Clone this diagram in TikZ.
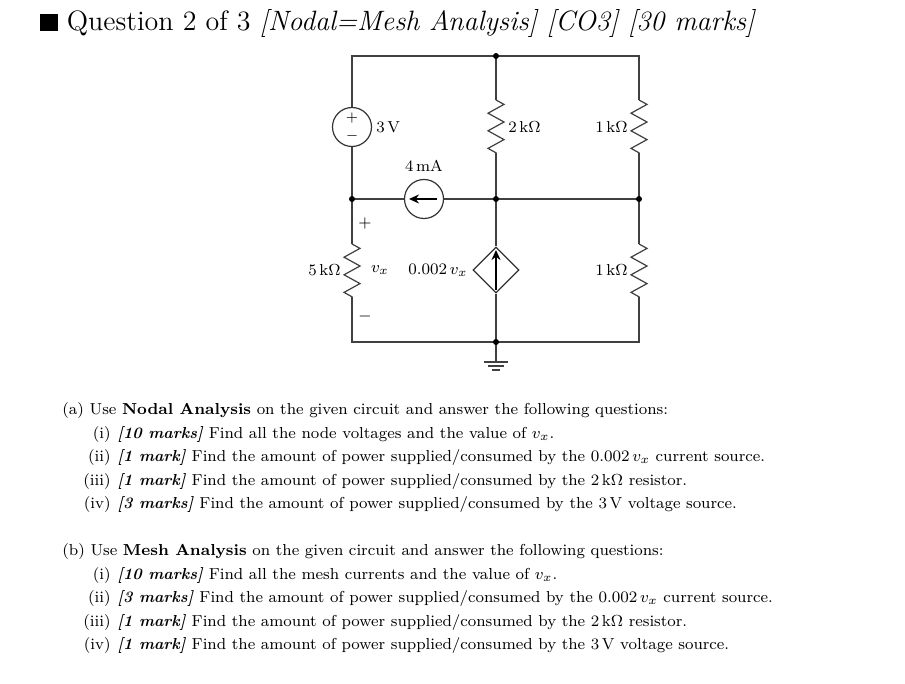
\documentclass[tikz,border=0pt]{standalone}
\usetikzlibrary{shapes.geometric,decorations.pathmorphing,arrows.meta}
\begin{document}
\begin{tikzpicture}[x=0.5pt,y=-0.5pt,font=\fontsize{7.95}{10}\selectfont,
  wire/.style={draw=black!75,line width=0.6pt},
  res/.style={wire,decorate,decoration={zigzag,segment length=8.8pt,amplitude=4pt}},
  dot/.style={circle,fill=black,inner sep=0pt,minimum size=3pt},
  src/.style={circle,draw=black!80,line width=0.6pt,minimum size=19.5pt,inner sep=0pt},
  lab/.style={inner sep=1pt},
  txt/.style={anchor=base west,inner sep=0pt},
  num/.style={anchor=base east,inner sep=0pt}]
\useasboundingbox (0,0) rectangle (905,684);
% junctions
\coordinate (TL) at (352,56); \coordinate (TM) at (496,56); \coordinate (TR) at (639,56);
\coordinate (ML) at (352,199); \coordinate (MM) at (496,199); \coordinate (MR) at (639,199);
\coordinate (BL) at (352,342); \coordinate (BM) at (496,342); \coordinate (BR) at (639,342);
\coordinate (G) at (496,362);
% resistor ends
\coordinate (r2a) at (496,100); \coordinate (r2b) at (496,153);
\coordinate (r1a) at (639,100); \coordinate (r1b) at (639,153);
\coordinate (r5a) at (352,244); \coordinate (r5b) at (352,297);
\coordinate (r3a) at (639,244); \coordinate (r3b) at (639,297);
% sources
\node[src] (vs) at (352,127) {};
\node[src] (cs) at (424,199) {};
\node[diamond,draw=black!80,line width=0.6pt,minimum size=23pt,inner sep=0pt] (dep) at (496,270) {};
% wires
\draw[wire] (vs.north) -- (TL) -- (TR) -- (r1a);
\draw[wire] (vs.south) -- (ML) -- (cs.west);
\draw[wire] (cs.east) -- (MR);
\draw[wire] (TM) -- (r2a); \draw[wire] (r2b) -- (dep.north);
\draw[wire] (r1b) -- (MR) -- (r3a);
\draw[wire] (r3b) -- (BR) -- (BL) -- (r5b);
\draw[wire] (ML) -- (r5a);
\draw[wire] (dep.south) -- (BM) -- (G);
\draw[res] (r2a) -- (r2b);
\draw[res] (r1a) -- (r1b);
\draw[res] (r5a) -- (r5b);
\draw[res] (r3a) -- (r3b);
% ground
\coordinate (g1a) at (484,362); \coordinate (g1b) at (508,362);
\coordinate (g2a) at (488,366); \coordinate (g2b) at (504,366);
\coordinate (g3a) at (492,370); \coordinate (g3b) at (500,370);
\draw[wire] (g1a) -- (g1b); \draw[wire] (g2a) -- (g2b); \draw[wire] (g3a) -- (g3b);
% dots
\foreach \p in {TM,ML,MM,MR,BM} \node[dot] at (\p) {};
% source internals
\node[inner sep=0pt,font=\scriptsize] (vp) at (352,118) {$+$};
\node[inner sep=0pt,font=\scriptsize] (vm) at (352,136) {$-$};
\coordinate (ca) at (437,199); \coordinate (cb) at (409,199);
\draw[-{Stealth[length=5pt,width=4.5pt]},line width=1.1pt] (ca) -- (cb);
\coordinate (da) at (496,290); \coordinate (db) at (496,250);
\draw[-{Stealth[length=5pt,width=4.5pt]},line width=1.1pt] (da) -- (db);
% labels
\node[lab,anchor=west] (l3v) at (374,127) {3\,V};
\node[lab] (l4ma) at (424,166) {4\,mA};
\node[lab,anchor=west] (l2k) at (506,127) {2\,k$\Omega$};
\node[lab,anchor=east] (l1k) at (630,127) {1\,k$\Omega$};
\node[lab,anchor=east] (l5k) at (343,270) {5\,k$\Omega$};
\node[lab,anchor=east] (l1kb) at (630,270) {1\,k$\Omega$};
\node[lab] (lp) at (365,224) {$+$};
\node[lab] (lvx) at (380,270) {$v_x$};
\node[lab] (lm) at (365,317) {$-$};
\node[lab,anchor=east] (ldep) at (470,270) {$0.002\,v_x$};
% title
\node[txt,font=\fontsize{14}{17}\selectfont] (title) at (40,31) {\rule{0.62em}{0.62em}\ Question 2 of 3 \textit{[Nodal=Mesh Analysis] [CO3] [30 marks]}};
% part a
\node[txt] (a) at (62,414) {(a)\ Use \textbf{Nodal Analysis} on the given circuit and answer the following questions:};
\node[num] (a1n) at (111,438) {(i)};
\node[txt] (a1) at (117,438) {\textbf{\textit{[10 marks]}} Find all the node voltages and the value of $v_x$.};
\node[num] (a2n) at (111,461) {(ii)};
\node[txt] (a2) at (117,461) {\textbf{\textit{[1 mark]}} Find the amount of power supplied/consumed by the $0.002\,v_x$ current source.};
\node[num] (a3n) at (111,485) {(iii)};
\node[txt] (a3) at (117,485) {\textbf{\textit{[1 mark]}} Find the amount of power supplied/consumed by the 2\,k$\Omega$ resistor.};
\node[num] (a4n) at (111,508) {(iv)};
\node[txt] (a4) at (117,508) {\textbf{\textit{[3 marks]}} Find the amount of power supplied/consumed by the 3\,V voltage source.};
% part b
\node[txt] (b) at (62,555) {(b)\ Use \textbf{Mesh Analysis} on the given circuit and answer the following questions:};
\node[num] (b1n) at (111,579) {(i)};
\node[txt] (b1) at (117,579) {\textbf{\textit{[10 marks]}} Find all the mesh currents and the value of $v_x$.};
\node[num] (b2n) at (111,602) {(ii)};
\node[txt] (b2) at (117,602) {\textbf{\textit{[3 marks]}} Find the amount of power supplied/consumed by the $0.002\,v_x$ current source.};
\node[num] (b3n) at (111,626) {(iii)};
\node[txt] (b3) at (117,626) {\textbf{\textit{[1 mark]}} Find the amount of power supplied/consumed by the 2\,k$\Omega$ resistor.};
\node[num] (b4n) at (111,649) {(iv)};
\node[txt] (b4) at (117,649) {\textbf{\textit{[1 mark]}} Find the amount of power supplied/consumed by the 3\,V voltage source.};
\end{tikzpicture}
\end{document}
